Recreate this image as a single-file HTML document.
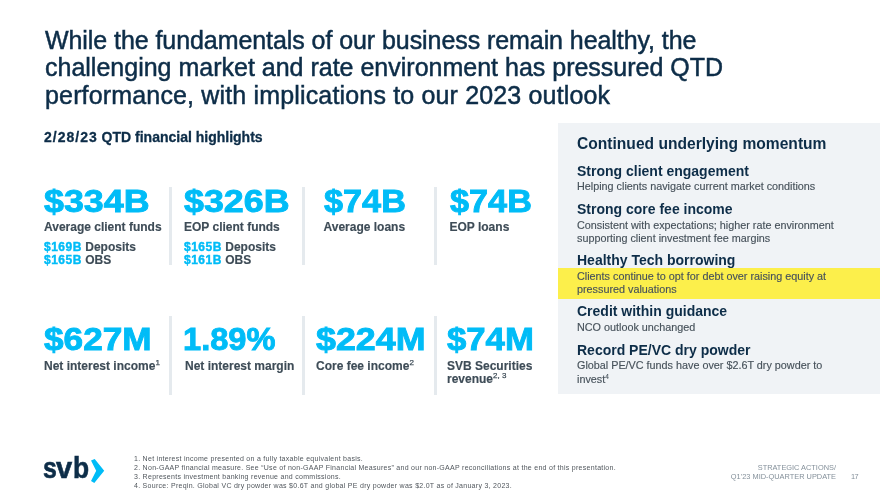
<!DOCTYPE html>
<html><head><meta charset="utf-8">
<style>
*{margin:0;padding:0;box-sizing:border-box}
html,body{width:880px;height:495px;overflow:hidden;background:#fff}
body{position:relative;font-family:"Liberation Sans",sans-serif}
.a{position:absolute;white-space:nowrap}
.t{left:45px;font-size:25px;line-height:27.25px;color:#0d2d48;top:27px;-webkit-text-stroke:0.5px #0d2d48}
.sub{left:44px;top:129px;font-size:14px;line-height:16px;font-weight:700;color:#0d2d48;-webkit-text-stroke:0.3px #0d2d48}
.num{font-size:32px;line-height:36px;font-weight:700;color:#00bcf7;-webkit-text-stroke:0.9px #00bcf7;transform-origin:0 0}
.lab{font-size:12px;line-height:13.4px;font-weight:700;color:#3e4c57;-webkit-text-stroke:0.15px #3e4c57}
.c{color:#00bcf7;letter-spacing:0.5px;-webkit-text-stroke:0.4px #00bcf7}
.sep{position:absolute;width:3px;background:#e5eaee}
.panel{position:absolute;left:558px;top:123px;width:322px;height:271px;background:#f0f3f6}
.hl{position:absolute;left:558px;top:268px;width:322px;height:31px;background:#fcef4b}
.ph{font-size:16.5px;line-height:18px;font-weight:700;color:#0d2d48;left:577px;transform:scaleX(0.945);transform-origin:0 0}
.h{font-size:14px;line-height:16px;font-weight:700;color:#0d2d48;left:577px}
.b{font-size:10.8px;line-height:13px;color:#47525b;left:577px;-webkit-text-stroke:0.15px #47525b}
sup{font-size:8px;font-weight:400;-webkit-text-stroke:0.25px currentColor;vertical-align:0;position:relative;top:-4.6px}
.fn{left:134px;font-size:7px;line-height:8.95px;color:#50565c;letter-spacing:0.28px}
.rt{font-size:7.4px;line-height:8.9px;color:#84909a;text-align:right}
.s2{font-size:6.5px;top:-3.6px;-webkit-text-stroke:0.1px currentColor}
.logo{top:450.5px;font-size:30px;line-height:34px;font-weight:700;color:#0d2d48;-webkit-text-stroke:0.6px #0d2d48;transform-origin:0 0}
</style></head><body style="will-change:transform">

<div class="a t"><span style="letter-spacing:-0.07px">While the fundamentals of our business remain healthy, the</span><br>challenging market and rate environment has pressured QTD<br><span style="letter-spacing:0.16px">performance, with implications to our 2023 outlook</span></div>

<div class="a sub"><span style="letter-spacing:1px">2/28/23</span> QTD financial highlights</div>

<!-- row 1 -->
<div class="a num" style="left:44px;top:183.3px;transform:scaleX(1.12)">$334B</div>
<div class="a num" style="left:184px;top:183.3px;transform:scaleX(1.12)">$326B</div>
<div class="a num" style="left:323.5px;top:183.3px;transform:scaleX(1.07)">$74B</div>
<div class="a num" style="left:449.5px;top:183.3px;transform:scaleX(1.07)">$74B</div>

<div class="a lab" style="left:44px;top:220.8px">Average client funds</div>
<div class="a lab" style="left:184px;top:220.8px">EOP client funds</div>
<div class="a lab" style="left:323.5px;top:220.8px">Average loans</div>
<div class="a lab" style="left:449.5px;top:220.8px">EOP loans</div>

<div class="a lab" style="left:44px;top:240.5px"><span class="c">$169B</span> Deposits<br><span class="c">$165B</span> OBS</div>
<div class="a lab" style="left:184px;top:240.5px"><span class="c">$165B</span> Deposits<br><span class="c">$161B</span> OBS</div>

<div class="sep" style="left:169px;top:186.5px;height:78px"></div>
<div class="sep" style="left:301.5px;top:186.5px;height:78px"></div>
<div class="sep" style="left:433.5px;top:186.5px;height:78px"></div>

<!-- row 2 -->
<div class="a num" style="left:44px;top:321.3px;transform:scaleX(1.1)">$627M</div>
<div class="a num" style="left:183px;top:321.3px;transform:scaleX(1.02)">1.89%</div>
<div class="a num" style="left:316px;top:321.3px;transform:scaleX(1.12)">$224M</div>
<div class="a num" style="left:447px;top:321.3px;transform:scaleX(1.085)">$74M</div>

<div class="a lab" style="left:44px;top:359.6px;line-height:13.1px">Net interest income<sup>1</sup></div>
<div class="a lab" style="left:185px;top:359.6px;line-height:13.1px">Net interest margin</div>
<div class="a lab" style="left:316px;top:359.6px;line-height:13.1px">Core fee income<sup>2</sup></div>
<div class="a lab" style="left:447px;top:359.6px;line-height:13.1px">SVB Securities<br>revenue<sup>2, 3</sup></div>

<div class="sep" style="left:169px;top:316px;height:78.5px"></div>
<div class="sep" style="left:301.5px;top:316px;height:78.5px"></div>
<div class="sep" style="left:433.5px;top:316px;height:78.5px"></div>

<!-- right panel -->
<div class="panel"></div>
<div class="hl"></div>
<div class="a ph" style="top:133.8px">Continued underlying momentum</div>
<div class="a h" style="top:162.6px">Strong client engagement</div>
<div class="a b" style="top:180.0px">Helping clients navigate current market conditions</div>
<div class="a h" style="top:200.5px">Strong core fee income</div>
<div class="a b" style="top:218.9px;line-height:13.35px">Consistent with expectations; higher rate environment<br>supporting client investment fee margins</div>
<div class="a h" style="top:252.1px">Healthy Tech borrowing</div>
<div class="a b" style="top:269.5px;line-height:13.15px">Clients continue to opt for debt over raising equity at<br>pressured valuations</div>
<div class="a h" style="top:303.4px">Credit within guidance</div>
<div class="a b" style="top:321.0px">NCO outlook unchanged</div>
<div class="a h" style="top:342.0px">Record PE/VC dry powder</div>
<div class="a b" style="top:359.3px;line-height:13.35px">Global PE/VC funds have over $2.6T dry powder to<br>invest<sup class="s2">4</sup></div>

<!-- footer -->
<div class="a logo" style="left:42.8px;transform:scaleX(0.83)">s</div><div class="a logo" style="left:56.3px;transform:scaleX(0.97)">v</div><div class="a logo" style="left:72.5px;transform:scaleX(0.88)">b</div>
<svg class="a" style="left:0;top:0" width="880" height="495"><polygon points="91,460.6 94.7,459 104.2,470.8 94.3,483.1 91,481 96.2,470.8" fill="#00bcf7"/></svg>

<div class="a fn" style="top:455.1px">1. Net interest income presented on a fully taxable equivalent basis.<br>2. Non-GAAP financial measure. See “Use of non-GAAP Financial Measures” and our non-GAAP reconciliations at the end of this presentation.<br>3. Represents investment banking revenue and commissions.<br>4. Source: Preqin. Global VC dry powder was $0.6T and global PE dry powder was $2.0T as of January 3, 2023.</div>

<div class="a rt" style="right:44px;top:463.7px">STRATEGIC ACTIONS/<br>Q1’23 MID-QUARTER UPDATE</div>
<div class="a rt" style="left:851px;top:472.6px;text-align:left;letter-spacing:-0.6px">17</div>

</body></html>
